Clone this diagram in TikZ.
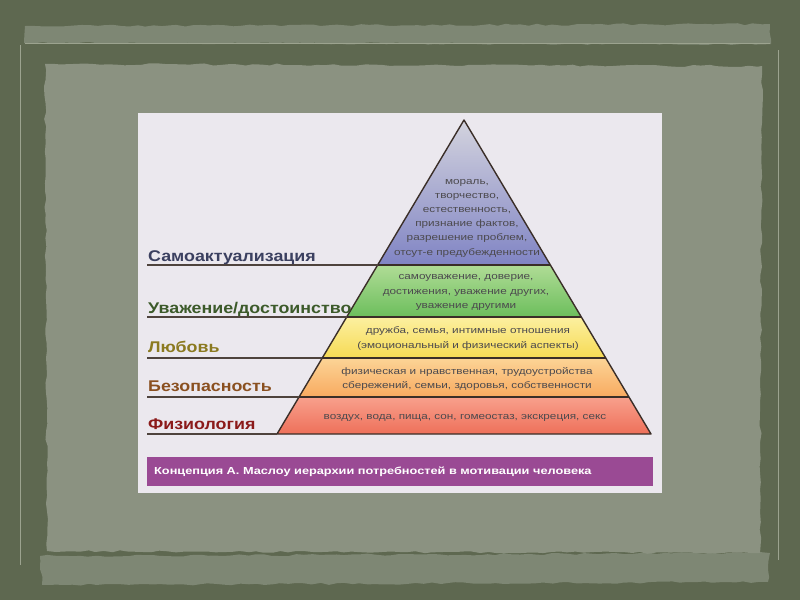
\documentclass[tikz,border=0pt]{standalone}
\usepackage{fontspec}
\setmainfont{Liberation Sans}
\newfontfamily\wide[FakeStretch=1.25]{Liberation Sans}
\newfontfamily\widelbl[FakeStretch=1.15]{Liberation Sans}
\usetikzlibrary{calc,decorations.pathmorphing}
\definecolor{bgdark}{HTML}{5E6850}
\definecolor{bgmid}{HTML}{7E8774}
\definecolor{bgline}{HTML}{9CA38F}
\definecolor{paper}{HTML}{8B9281}
\definecolor{panel}{HTML}{EBE8EE}
\definecolor{edge}{HTML}{3A2E28}
\definecolor{capbar}{HTML}{9A4A94}
\definecolor{txt}{HTML}{4C4A4E}
\definecolor{cSelf}{HTML}{3B4060}
\definecolor{cEst}{HTML}{3C5A2A}
\definecolor{cLove}{HTML}{8B7A20}
\definecolor{cSafe}{HTML}{8A5020}
\definecolor{cPhys}{HTML}{8B1A1A}
\tikzset{
  layer/.style={draw=edge, line width=1.4pt, line join=round},
  leader/.style={draw=edge!90, line width=1.2pt},
  lvl/.style={anchor=base west, inner sep=0pt, font=\widelbl\bfseries\fontsize{15.5}{18}\selectfont},
  ptext/.style={align=center, inner sep=0pt, text=txt, font=\wide\fontsize{9.4}{14.2}\selectfont},
  torn/.style={decorate, decoration={random steps, segment length=8pt, amplitude=1.1pt}}
}
\begin{document}
\begin{tikzpicture}[x=1pt,y=-1pt]
\pgfmathsetseed{11}
\useasboundingbox (0,0) rectangle (800,600);
% background
\fill[bgdark] (0,0) rectangle (800,600);
\fill[bgmid, torn] (25,26) -- (770,24) -- (771,44) -- (24,43) -- cycle;
\draw[bgline, line width=0.8pt] (25,43) -- (770,43);
\draw[bgline, line width=0.8pt] (20,45) -- (20,565);
\draw[bgline, line width=0.8pt] (778,50) -- (778,560);
\fill[bgmid, torn] (40,556) -- (770,553) -- (768,582) -- (42,585) -- cycle;
\fill[paper, torn] (45,64) -- (762,66) -- (760,553) -- (47,551) -- cycle;
% white panel
\fill[panel] (138,113) rectangle (662,493);
% pyramid geometry
\coordinate (A) at (464,120);
\coordinate (BL) at (277,434);
\coordinate (BR) at (651,434);
\coordinate (L1) at ($(A)!0.4618!(BL)$);
\coordinate (R1) at ($(A)!0.4618!(BR)$);
\coordinate (L2) at ($(A)!0.6274!(BL)$);
\coordinate (R2) at ($(A)!0.6274!(BR)$);
\coordinate (L3) at ($(A)!0.758!(BL)$);
\coordinate (R3) at ($(A)!0.758!(BR)$);
\coordinate (L4) at ($(A)!0.8822!(BL)$);
\coordinate (R4) at ($(A)!0.8822!(BR)$);
% layers
\shade[top color=white!70!blue!35!gray!40, bottom color={rgb,255:red,128;green,132;blue,196}] (A) -- (R1) -- (L1) -- cycle;
\shade[top color={rgb,255:red,176;green,220;blue,150}, bottom color={rgb,255:red,108;green,190;blue,92}] (L1) -- (R1) -- (R2) -- (L2) -- cycle;
\shade[top color={rgb,255:red,252;green,240;blue,160}, bottom color={rgb,255:red,246;green,218;blue,84}] (L2) -- (R2) -- (R3) -- (L3) -- cycle;
\shade[top color={rgb,255:red,252;green,212;blue,150}, bottom color={rgb,255:red,248;green,170;blue,96}] (L3) -- (R3) -- (R4) -- (L4) -- cycle;
\shade[top color={rgb,255:red,248;green,160;blue,140}, bottom color={rgb,255:red,238;green,112;blue,90}] (L4) -- (R4) -- (BR) -- (BL) -- cycle;
\draw[layer] (A) -- (BR) -- (BL) -- cycle;
\draw[layer] (L1) -- (R1);
\draw[layer] (L2) -- (R2);
\draw[layer] (L3) -- (R3);
\draw[layer] (L4) -- (R4);
% leader lines
\coordinate (S1) at (147,0 |- L1);
\coordinate (S2) at (147,0 |- L2);
\coordinate (S3) at (147,0 |- L3);
\coordinate (S4) at (147,0 |- L4);
\coordinate (S5) at (147,0 |- BL);
\draw[leader] (S1) -- (L1);
\draw[leader] (S2) -- (L2);
\draw[leader] (S3) -- (L3);
\draw[leader] (S4) -- (L4);
\draw[leader] (S5) -- (BL);
% level labels
\node[lvl, text=cSelf] (n1) at (148,261) {Самоактуализация};
\node[lvl, text=cEst] (n2) at (148,313) {Уважение/достоинство};
\node[lvl, text=cLove] (n3) at (148,352) {Любовь};
\node[lvl, text=cSafe] (n4) at (148,391) {Безопасность};
\node[lvl, text=cPhys] (n5) at (148,429) {Физиология};
% pyramid texts
\node[ptext] (t1) at (467,218) {мораль,\\творчество,\\естественность,\\признание фактов,\\разрешение проблем,\\отсут-е предубежденности};
\node[ptext] (t2) at (466,292.5) {самоуважение, доверие,\\достижения, уважение других,\\уважение другими};
\node[ptext] (t3) at (468,338.5) {дружба, семья, интимные отношения\\(эмоциональный и физический аспекты)};
\node[ptext] (t4) at (467,379) {физическая и нравственная, трудоустройства\\сбережений, семьи, здоровья, собственности};
\node[ptext] (t5) at (465,418) {воздух, вода, пища, сон, гомеостаз, экскреция, секс};
% caption bar
\fill[capbar] (147,457) rectangle (653,486);
\node[anchor=west, inner sep=0pt, text=white, font=\wide\bfseries\fontsize{10.2}{12}\selectfont] (cap) at (154,471.5) {Концепция А. Маслоу иерархии потребностей в мотивации человека};
\end{tikzpicture}
\end{document}
